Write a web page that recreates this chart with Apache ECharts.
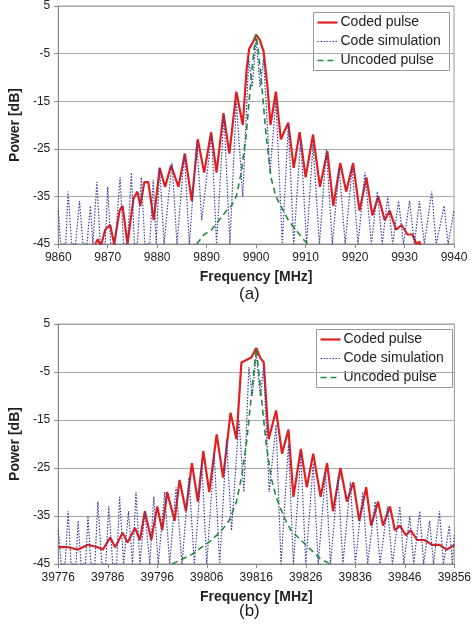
<!DOCTYPE html>
<html><head><meta charset="utf-8">
<script src="https://cdn.jsdelivr.net/npm/echarts@6/dist/echarts.min.js"></script>
<style>html,body{margin:0;padding:0;background:#fff}#c{width:474px;height:628px}</style>
</head><body><div id="c"></div>
<script>
const yTicks=[-45,-35,-25,-15,-5,5];
const xMinA=9860, xMinB=39776;
const codedA=[[9867.5,-45],[9868,-44],[9868.6,-45.5],[9869.5,-42],[9870.5,-41],[9871.3,-45],[9872.4,-38],[9873,-37],[9874,-45],[9875.2,-35.5],[9876,-34],[9876.6,-37],[9877.4,-32],[9878.2,-32],[9879.3,-40],[9880.5,-29],[9881.6,-33],[9882.8,-28.5],[9884.3,-33],[9885.6,-26],[9887,-36],[9888.2,-23],[9889.5,-30],[9890.9,-21.5],[9892,-30],[9893.4,-17.5],[9894.6,-26],[9896,-13],[9897.3,-20],[9898.1,-8],[9898.6,-4],[9899.4,-2.5],[9900,-1],[9900.7,-2],[9901.5,-4.5],[9902.3,-12],[9902.9,-20],[9904,-13],[9905,-23],[9906.5,-19.5],[9907.6,-29],[9908.8,-21.5],[9910,-31],[9911.5,-22],[9912.9,-33],[9914.4,-25.5],[9915.6,-37],[9917,-28],[9918.2,-34],[9919.6,-28],[9920.9,-38],[9922.3,-31],[9923.5,-39],[9924.7,-35],[9926,-40],[9927,-38],[9928.3,-42],[9929.4,-41],[9930.6,-43],[9931.6,-43],[9932.4,-45],[9933,-44.5],[9933.3,-45.5]];
const simA=[[9860,-38],[9860.5,-45],[9861.5,-45],[9862,-34],[9862.7,-45],[9863.5,-45],[9864.3,-36],[9865,-45],[9865.8,-45],[9866.5,-37],[9867,-45],[9867.8,-32],[9868.5,-45],[9869.5,-45],[9870,-33],[9870.6,-45],[9871.5,-45],[9872.5,-31],[9873.2,-45],[9874,-45],[9874.8,-30],[9875.4,-45],[9876,-45],[9876.8,-31],[9877.5,-45],[9878.5,-45],[9879.2,-31.5],[9879.8,-45],[9880.5,-29],[9881.4,-45],[9882,-38],[9883,-28],[9884,-45],[9885.5,-26],[9886.5,-45],[9888,-23.5],[9889,-40],[9891,-22],[9892,-45],[9893.5,-18],[9894.7,-45],[9896,-15],[9897.3,-35],[9898.5,-6],[9899.2,-12],[9900,-2],[9900.8,-12],[9901.5,-6],[9902.8,-30],[9904,-15],[9905.3,-45],[9906.5,-20],[9907.6,-45],[9909,-23],[9910.2,-45],[9911.5,-24],[9912.8,-45],[9914.2,-25],[9915.4,-45],[9916.8,-29],[9918,-45],[9919.4,-29],[9920.6,-45],[9922,-30],[9923.3,-45],[9924.5,-34],[9925.5,-45],[9926.6,-35],[9927.6,-45],[9928.8,-36],[9929.8,-45],[9931,-36],[9932,-45],[9933,-36],[9934,-45],[9935.5,-34],[9936.4,-45],[9938,-37],[9938.8,-45],[9940,-38]];
const uncodedA=[[9888,-45],[9889.5,-43],[9891,-42],[9892.5,-40],[9894,-38],[9895,-37],[9896,-35],[9897,-30],[9898,-22],[9899,-10],[9899.6,-4],[9900,-1],[9900.4,-4],[9901,-10],[9902,-22],[9903,-31],[9904,-35],[9905,-37],[9906.5,-40],[9908,-42],[9909.5,-44],[9910.5,-45]];
const codedB=[[39776,-41.5],[39778,-41.5],[39780,-42],[39782,-41],[39784,-41.5],[39785,-42],[39786.5,-39.5],[39787.5,-41.5],[39789,-38.5],[39790,-40.5],[39791.5,-37.5],[39792.5,-40],[39793.5,-34],[39794.8,-40],[39796,-33],[39797,-38],[39798,-30],[39799.5,-36],[39800.5,-27.5],[39801.8,-34],[39803,-24],[39804.2,-32],[39805.3,-21.5],[39806.5,-30],[39808,-18],[39809.3,-27],[39810.8,-13.5],[39812,-19],[39813,-3],[39814,-2.5],[39815,-2],[39816,0],[39816.8,-2],[39817.5,-3],[39818.5,-19],[39820,-13],[39821.2,-22],[39822.5,-17],[39823.5,-31],[39825,-21],[39826.2,-29],[39827.5,-22],[39829,-31],[39830.3,-24],[39831.5,-34],[39833,-25],[39834.3,-32],[39835.6,-28],[39836.8,-36],[39838.2,-29],[39839.2,-37],[39840.6,-32],[39841.6,-37],[39843,-33],[39844,-38],[39845,-37],[39846.2,-39],[39847.2,-38],[39848.5,-40],[39850,-40],[39851.5,-41],[39853,-41],[39854.5,-42],[39856,-41]];
const simB=[[39776,-38],[39776.6,-45],[39777.4,-45],[39778,-34],[39778.6,-45],[39779.6,-45],[39780,-36],[39780.6,-45],[39781.5,-45],[39782,-35],[39782.6,-45],[39783.4,-45],[39784,-32],[39784.8,-45],[39785.6,-45],[39786.2,-33],[39787,-45],[39787.8,-45],[39788.4,-31],[39789.2,-45],[39790.2,-34],[39791,-45],[39791.7,-30],[39792.5,-45],[39793.5,-34],[39794.5,-45],[39795.3,-31],[39796.2,-45],[39797.5,-30],[39798.5,-45],[39799.8,-29],[39801,-45],[39802.4,-27],[39803.5,-45],[39805,-24],[39806,-45],[39807.5,-22],[39808.6,-45],[39810,-19],[39811,-38],[39812.5,-15],[39813.5,-30],[39814.5,-4],[39815.2,-10],[39816,-1],[39816.8,-10],[39817.5,-4],[39818.6,-30],[39820,-16],[39821,-45],[39822.5,-20],[39823.5,-45],[39825,-22],[39826,-45],[39827.5,-24],[39828.5,-45],[39830,-26],[39831,-45],[39832.5,-27],[39833.5,-45],[39835,-28],[39836,-45],[39837.5,-30],[39838.5,-45],[39840,-32],[39841,-45],[39842.5,-33],[39843.5,-45],[39845,-33],[39845.8,-45],[39847,-35],[39847.8,-45],[39849,-34],[39849.8,-45],[39851,-36],[39851.8,-45],[39853,-34],[39853.8,-45],[39855,-37],[39855.6,-45],[39856,-39]];
const uncodedB=[[39799,-45],[39801,-44],[39803,-43],[39805,-41.5],[39807,-40],[39809,-38],[39810.5,-36],[39812,-32],[39813,-27],[39814,-20],[39815,-10],[39815.6,-4],[39816,0],[39816.4,-4],[39817,-10],[39818,-20],[39819,-27],[39820,-31],[39821.5,-35],[39823,-38],[39825,-40],[39827,-42],[39829,-44],[39831,-45]];
const legendNames=['Coded pulse','Code simulation','Uncoded pulse'];
const yOff=45;
const tA=d=>d.map(p=>[p[0]-xMinA,p[1]+yOff]);
const tB=d=>d.map(p=>[p[0]-xMinB,p[1]+yOff]);
const font="Liberation Sans";
function xAx(i,min){return {gridIndex:i,type:'value',min:0,max:80,interval:10,
  axisLabel:{formatter:v=>String(v+min),color:'#222',fontFamily:font,fontSize:12,margin:8},
  axisLine:{lineStyle:{color:'#888'}},axisTick:{show:true,length:4,lineStyle:{color:'#888'}},splitLine:{show:false},
  name:'Frequency [MHz]',nameLocation:'middle',nameGap:26,nameTextStyle:{fontFamily:font,fontWeight:'bold',fontSize:14,color:'#222'}};}
function yAx(i){return {gridIndex:i,type:'value',min:0,max:50,interval:10,
  axisLabel:{formatter:v=>String(v-yOff),color:'#222',fontFamily:font,fontSize:12},
  axisLine:{show:true,lineStyle:{color:'#888'}},axisTick:{show:true,length:4,lineStyle:{color:'#888'}},splitLine:{lineStyle:{color:'#aaa'}},
  name:'Power [dB]',nameLocation:'middle',nameGap:30,nameTextStyle:{fontFamily:font,fontWeight:'bold',fontSize:14,color:'#222'}};}
const red={color:'#e02020',width:2.2}, blue={color:'#4040a0',width:1.2,type:[1.5,1.5]}, green={color:'#208a40',width:1.6,type:[6,4]};
function ser(i,name,data,ls,z){return {type:'line',name,xAxisIndex:i,yAxisIndex:i,data,showSymbol:false,symbol:'none',lineStyle:ls,itemStyle:{color:ls.color},z,animation:false};}
function legBox(left,top){return {type:'group',left,top,z:100,children:[
  {type:'rect',shape:{width:136,height:58},style:{fill:'#fff',stroke:'#999'}},
  {type:'line',shape:{x1:4,y1:10,x2:24,y2:10},style:{stroke:'#e02020',lineWidth:2.2}},
  {type:'line',shape:{x1:4,y1:29,x2:24,y2:29},style:{stroke:'#4040a0',lineWidth:1.2,lineDash:[1.5,1.5]}},
  {type:'line',shape:{x1:4,y1:48,x2:24,y2:48},style:{stroke:'#208a40',lineWidth:1.6,lineDash:[6,4]}},
  {type:'text',x:27,y:3,style:{text:legendNames[0],font:'14px Liberation Sans',fill:'#222'}},
  {type:'text',x:27,y:22,style:{text:legendNames[1],font:'14px Liberation Sans',fill:'#222'}},
  {type:'text',x:27,y:41,style:{text:legendNames[2],font:'14px Liberation Sans',fill:'#222'}}]};}
const chart=echarts.init(document.getElementById('c'),null,{renderer:'canvas'});
chart.setOption({animation:false,
  grid:[{left:44,right:20,top:5,height:239,show:true,borderColor:'#999',borderWidth:1},{left:45,right:18,top:324,height:240,show:true,borderColor:'#999',borderWidth:1}],
  xAxis:[xAx(0,xMinA),xAx(1,xMinB)],yAxis:[yAx(0),yAx(1)],
  series:[ser(0,legendNames[0],tA(codedA),red,3),ser(0,legendNames[1],tA(simA),blue,4),ser(0,legendNames[2],tA(uncodedA),green,5),
          ser(1,legendNames[0],tB(codedB),red,3),ser(1,legendNames[1],tB(simB),blue,4),ser(1,legendNames[2],tB(uncodedB),green,5)],
  graphic:[{type:'text',left:239,top:286,style:{text:'(a)',font:'17px Liberation Sans',fill:'#222'}},
           {type:'text',left:239,top:603,style:{text:'(b)',font:'17px Liberation Sans',fill:'#222'}},
           legBox(313,12),legBox(316,329)]
});
</script></body></html>
